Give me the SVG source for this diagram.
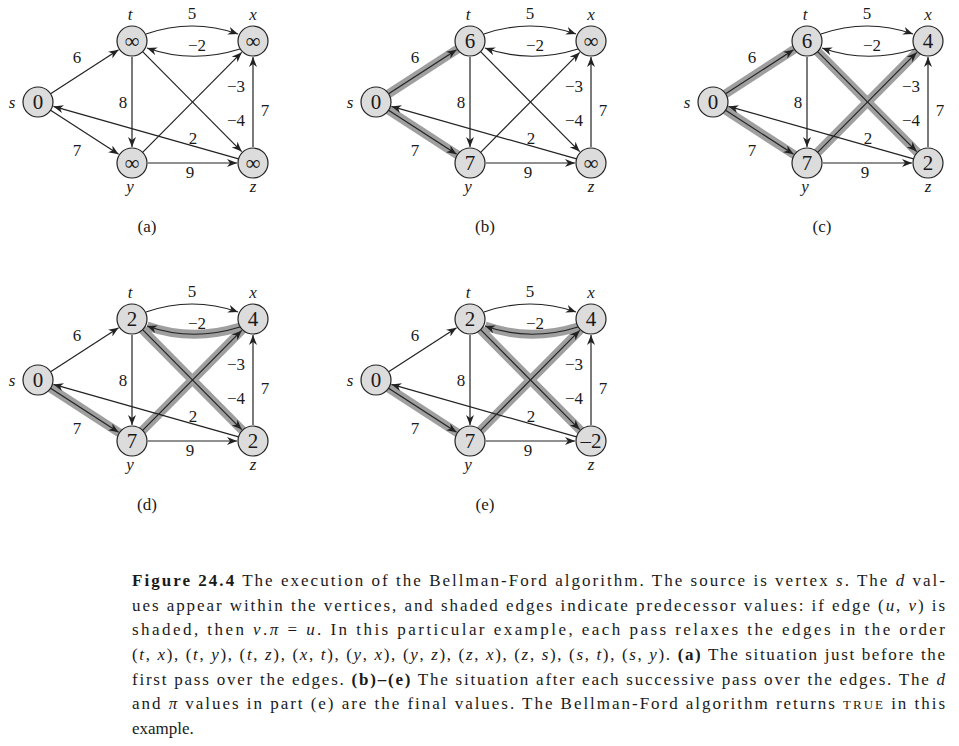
<svg xmlns="http://www.w3.org/2000/svg" width="959" height="746" viewBox="0 0 959 746">
<style>
text{font-family:"Liberation Serif",serif;fill:#1a1a1a}
.e{stroke:#222;stroke-width:1.2;fill:none;marker-end:url(#ah)}
.sh{stroke:#9f9f9f;stroke-width:9;fill:none;stroke-linecap:butt}
.n circle{fill:#dcdcdc;stroke:#222;stroke-width:1.2}
.n text{font-size:21px;text-anchor:middle}
.w{font-size:17px;text-anchor:middle}
.lb{font-size:17px;font-style:italic;text-anchor:middle}
.cap{font-size:17px;text-anchor:middle}
.c{font-size:17px}
</style>
<defs>
<marker id="ah" viewBox="0 0 10 8" refX="10" refY="4" markerWidth="10" markerHeight="8" markerUnits="userSpaceOnUse" orient="auto"><path d="M0,0 L10,4 L0,8 L3,4 Z" fill="#222"/></marker>
<g id="edges">
<path class="e" d="M50.6,93.8L118.6,49.7"/>
<path class="e" d="M50.6,110.2L118.6,154.3"/>
<path class="e" d="M132,57L132,147"/>
<path class="e" d="M142.6,51.7L241.7,151.6"/>
<path class="e" d="M142.6,152.3L241.7,52.4"/>
<path class="e" d="M148,163L237,163"/>
<path class="e" d="M253,147L253,57"/>
<path class="e" d="M238.6,158.9L53.4,106.4"/>
<path class="e" d="M146,34Q192,18 238,34"/>
<path class="e" d="M240,49Q192,64 147,48"/>
</g>
<g id="labels">
<text class="w" x="77" y="63">6</text>
<text class="w" x="77" y="156">7</text>
<text class="w" x="123" y="108">8</text>
<text class="w" x="192" y="19">5</text>
<text class="w" x="197" y="51">−2</text>
<text class="w" x="236" y="92">−3</text>
<text class="w" x="236" y="126">−4</text>
<text class="w" x="265" y="116">7</text>
<text class="w" x="193" y="144">2</text>
<text class="w" x="190" y="178">9</text>
<text class="lb" x="130" y="20">t</text>
<text class="lb" x="253" y="20">x</text>
<text class="lb" x="130" y="192">y</text>
<text class="lb" x="253" y="192">z</text>
<text class="lb" x="12" y="108">s</text>
</g>
</defs>

<g id="panel-a">
<g id="connectors-a"><use href="#edges"/></g>
<use href="#labels"/>
<g id="a-s" class="n"><circle cx="38" cy="102" r="15"/><text x="38" y="109">0</text></g>
<g id="a-t" class="n"><circle cx="132" cy="41" r="15"/><text x="132" y="48">∞</text></g>
<g id="a-x" class="n"><circle cx="253" cy="41" r="15"/><text x="253" y="48">∞</text></g>
<g id="a-y" class="n"><circle cx="132" cy="163" r="15"/><text x="132" y="170">∞</text></g>
<g id="a-z" class="n"><circle cx="253" cy="163" r="15"/><text x="253" y="170">∞</text></g>
<text class="cap" x="147" y="232">(a)</text>
</g>

<g id="panel-b" transform="translate(338,0)">
<g id="connectors-b">
<path class="sh" d="M38,102L132,41M38,102L132,163"/>
<use href="#edges"/></g>
<use href="#labels"/>
<g id="b-s" class="n"><circle cx="38" cy="102" r="15"/><text x="38" y="109">0</text></g>
<g id="b-t" class="n"><circle cx="132" cy="41" r="15"/><text x="132" y="48">6</text></g>
<g id="b-x" class="n"><circle cx="253" cy="41" r="15"/><text x="253" y="48">∞</text></g>
<g id="b-y" class="n"><circle cx="132" cy="163" r="15"/><text x="132" y="170">7</text></g>
<g id="b-z" class="n"><circle cx="253" cy="163" r="15"/><text x="253" y="170">∞</text></g>
<text class="cap" x="147" y="232">(b)</text>
</g>

<g id="panel-c" transform="translate(675,0)">
<g id="connectors-c">
<path class="sh" d="M38,102L132,41M38,102L132,163M132,41L253,163M132,163L253,41"/>
<use href="#edges"/></g>
<use href="#labels"/>
<g id="c-s" class="n"><circle cx="38" cy="102" r="15"/><text x="38" y="109">0</text></g>
<g id="c-t" class="n"><circle cx="132" cy="41" r="15"/><text x="132" y="48">6</text></g>
<g id="c-x" class="n"><circle cx="253" cy="41" r="15"/><text x="253" y="48">4</text></g>
<g id="c-y" class="n"><circle cx="132" cy="163" r="15"/><text x="132" y="170">7</text></g>
<g id="c-z" class="n"><circle cx="253" cy="163" r="15"/><text x="253" y="170">2</text></g>
<text class="cap" x="147" y="232">(c)</text>
</g>

<g id="panel-d" transform="translate(0,278)">
<g id="connectors-d">
<path class="sh" d="M38,102L132,163M132,41L253,163M132,163L253,41M240,49Q192,64 147,48"/>
<use href="#edges"/></g>
<use href="#labels"/>
<g id="d-s" class="n"><circle cx="38" cy="102" r="15"/><text x="38" y="109">0</text></g>
<g id="d-t" class="n"><circle cx="132" cy="41" r="15"/><text x="132" y="48">2</text></g>
<g id="d-x" class="n"><circle cx="253" cy="41" r="15"/><text x="253" y="48">4</text></g>
<g id="d-y" class="n"><circle cx="132" cy="163" r="15"/><text x="132" y="170">7</text></g>
<g id="d-z" class="n"><circle cx="253" cy="163" r="15"/><text x="253" y="170">2</text></g>
<text class="cap" x="147" y="232">(d)</text>
</g>

<g id="panel-e" transform="translate(338,278)">
<g id="connectors-e">
<path class="sh" d="M38,102L132,163M132,41L253,163M132,163L253,41M240,49Q192,64 147,48"/>
<use href="#edges"/></g>
<use href="#labels"/>
<g id="e-s" class="n"><circle cx="38" cy="102" r="15"/><text x="38" y="109">0</text></g>
<g id="e-t" class="n"><circle cx="132" cy="41" r="15"/><text x="132" y="48">2</text></g>
<g id="e-x" class="n"><circle cx="253" cy="41" r="15"/><text x="253" y="48">4</text></g>
<g id="e-y" class="n"><circle cx="132" cy="163" r="15"/><text x="132" y="170">7</text></g>
<g id="e-z" class="n"><circle cx="253" cy="163" r="15"/><text x="253" y="170" font-size="19">–2</text></g>
<text class="cap" x="147" y="232">(e)</text>
</g>

<g id="caption" class="c">
<text x="132" y="586" textLength="813" lengthAdjust="spacing"><tspan font-weight="bold">Figure 24.4</tspan>   The execution of the Bellman-Ford algorithm. The source is vertex <tspan font-style="italic">s</tspan>. The <tspan font-style="italic">d</tspan> val-</text>
<text x="132" y="611" textLength="813" lengthAdjust="spacing">ues appear within the vertices, and shaded edges indicate predecessor values: if edge (<tspan font-style="italic">u</tspan>, <tspan font-style="italic">v</tspan>) is</text>
<text x="132" y="635" textLength="813" lengthAdjust="spacing">shaded, then <tspan font-style="italic">v</tspan>.<tspan font-style="italic">π</tspan> = <tspan font-style="italic">u</tspan>. In this particular example, each pass relaxes the edges in the order</text>
<text x="132" y="660" textLength="813" lengthAdjust="spacing">(<tspan font-style="italic">t</tspan>, <tspan font-style="italic">x</tspan>), (<tspan font-style="italic">t</tspan>, <tspan font-style="italic">y</tspan>), (<tspan font-style="italic">t</tspan>, <tspan font-style="italic">z</tspan>), (<tspan font-style="italic">x</tspan>, <tspan font-style="italic">t</tspan>), (<tspan font-style="italic">y</tspan>, <tspan font-style="italic">x</tspan>), (<tspan font-style="italic">y</tspan>, <tspan font-style="italic">z</tspan>), (<tspan font-style="italic">z</tspan>, <tspan font-style="italic">x</tspan>), (<tspan font-style="italic">z</tspan>, <tspan font-style="italic">s</tspan>), (<tspan font-style="italic">s</tspan>, <tspan font-style="italic">t</tspan>), (<tspan font-style="italic">s</tspan>, <tspan font-style="italic">y</tspan>). <tspan font-weight="bold">(a)</tspan> The situation just before the</text>
<text x="132" y="685" textLength="813" lengthAdjust="spacing">first pass over the edges. <tspan font-weight="bold">(b)–(e)</tspan> The situation after each successive pass over the edges. The <tspan font-style="italic">d</tspan></text>
<text x="132" y="709" textLength="813" lengthAdjust="spacing">and <tspan font-style="italic">π</tspan> values in part (e) are the final values. The Bellman-Ford algorithm returns <tspan font-size="13">TRUE</tspan> in this</text>
<text x="132" y="734">example.</text>
</g>
</svg>
